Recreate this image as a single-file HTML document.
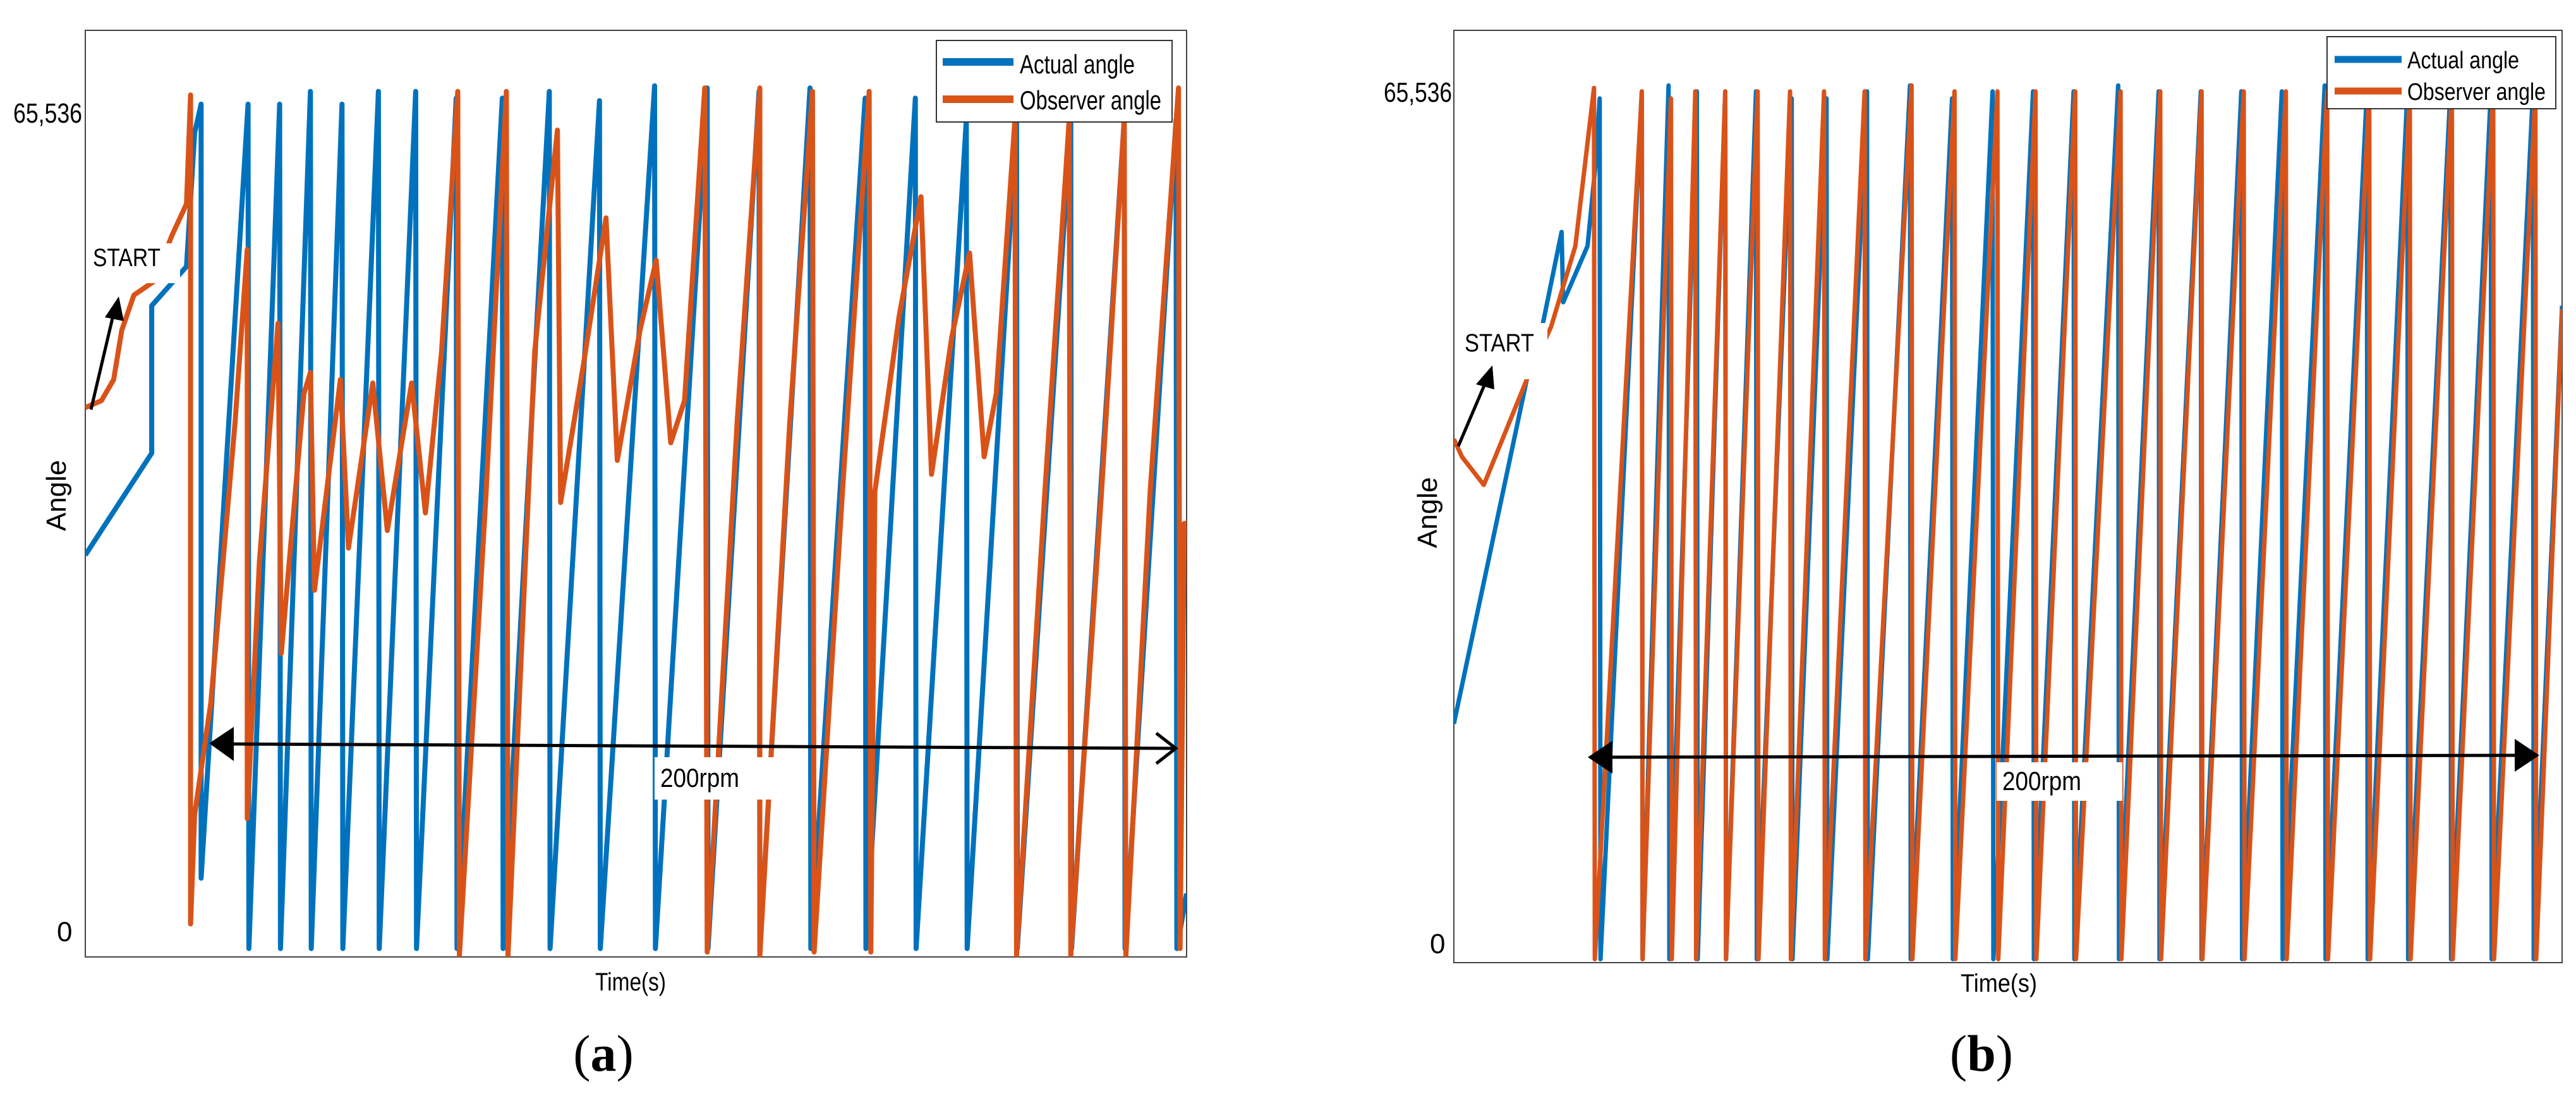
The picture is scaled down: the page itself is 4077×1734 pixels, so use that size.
<!DOCTYPE html>
<html><head><meta charset="utf-8"><style>
html,body{margin:0;padding:0;background:#fff;}
svg{display:block;}
text{font-family:"Liberation Sans",sans-serif;fill:#000;}
</style></head><body>
<svg id="fig" width="4077" height="1734" viewBox="0 0 4077 1734" xmlns="http://www.w3.org/2000/svg">
<defs>
<clipPath id="clipA"><rect x="135" y="48" width="1743" height="1466"/></clipPath>
<clipPath id="clipB"><rect x="2301" y="48" width="1754" height="1475"/></clipPath>
</defs>
<g id="panelA">
  <rect x="135" y="48" width="1743" height="1466" fill="#fff" stroke="#444" stroke-width="2"/>
  <g id="linesA" clip-path="url(#clipA)"></g>
  <rect x="140" y="385" width="145" height="63" fill="#fff"/>
  <text x="147" y="421" font-size="40" textLength="107" lengthAdjust="spacingAndGlyphs">START</text>
  <line x1="144" y1="648" x2="180" y2="495" stroke="#000" stroke-width="5"/>
  <polygon points="188,469 166,502 196,508" fill="#000"/>
  <line x1="360" y1="1177" x2="1858" y2="1184" stroke="#000" stroke-width="5"/>
  <polygon points="331,1176 370,1150 370,1204" fill="#000"/>
  <polyline points="1830,1160 1861,1184 1830,1208" fill="none" stroke="#000" stroke-width="5"/>
  <rect x="1036" y="1198" width="195" height="67" fill="#fff"/>
  <text x="1045" y="1245" font-size="42" textLength="125" lengthAdjust="spacingAndGlyphs">200rpm</text>
  <rect x="1482" y="64" width="373" height="129" fill="#fff" stroke="#333" stroke-width="2"/>
  <line x1="1492" y1="98" x2="1604" y2="98" stroke="#0072BD" stroke-width="12"/>
  <line x1="1492" y1="157" x2="1604" y2="157" stroke="#D95319" stroke-width="12"/>
  <text x="1614" y="116" font-size="42" textLength="182" lengthAdjust="spacingAndGlyphs">Actual angle</text>
  <text x="1614" y="173" font-size="42" textLength="224" lengthAdjust="spacingAndGlyphs">Observer angle</text>
  <text x="21" y="194" font-size="44" textLength="109" lengthAdjust="spacingAndGlyphs">65,536</text>
  <text x="90" y="1489" font-size="44">0</text>
  <text transform="translate(104,784) rotate(-90)" text-anchor="middle" font-size="44">Angle</text>
  <text x="942" y="1567" font-size="40" textLength="112" lengthAdjust="spacingAndGlyphs">Time(s)</text>
  <text x="955" y="1694" text-anchor="middle" font-size="82" style="font-family:'Liberation Serif',serif">(<tspan font-weight="bold">a</tspan>)</text>
</g>
<g id="panelB">
  <rect x="2301" y="48" width="1754" height="1475" fill="#fff" stroke="#444" stroke-width="2"/>
  <g id="linesB" clip-path="url(#clipB)"></g>
  <rect x="2312" y="511" width="137" height="89" fill="#fff"/>
  <text x="2318" y="556" font-size="40" textLength="110" lengthAdjust="spacingAndGlyphs">START</text>
  <line x1="2308" y1="706" x2="2352" y2="603" stroke="#000" stroke-width="5"/>
  <polygon points="2362,578 2336,608 2365,616" fill="#000"/>
  <line x1="2545" y1="1198" x2="3990" y2="1195" stroke="#000" stroke-width="5"/>
  <polygon points="2513,1198 2552,1172 2552,1224" fill="#000"/>
  <polygon points="4019,1195 3980,1169 3980,1221" fill="#000"/>
  <rect x="3160" y="1206" width="199" height="61" fill="#fff"/>
  <text x="3169" y="1250" font-size="42" textLength="125" lengthAdjust="spacingAndGlyphs">200rpm</text>
  <rect x="3683" y="58" width="362" height="114" fill="#fff" stroke="#333" stroke-width="2"/>
  <line x1="3695" y1="94" x2="3801" y2="94" stroke="#0072BD" stroke-width="11"/>
  <line x1="3695" y1="144" x2="3801" y2="144" stroke="#D95319" stroke-width="11"/>
  <text x="3810" y="108" font-size="38" textLength="177" lengthAdjust="spacingAndGlyphs">Actual angle</text>
  <text x="3810" y="158" font-size="38" textLength="219" lengthAdjust="spacingAndGlyphs">Observer angle</text>
  <text x="2190" y="161" font-size="44" textLength="108" lengthAdjust="spacingAndGlyphs">65,536</text>
  <text x="2263" y="1508" font-size="44">0</text>
  <text transform="translate(2274,811) rotate(-90)" text-anchor="middle" font-size="44">Angle</text>
  <text x="3103" y="1569" font-size="40" textLength="121" lengthAdjust="spacingAndGlyphs">Time(s)</text>
  <text x="3136" y="1694" text-anchor="middle" font-size="82" style="font-family:'Liberation Serif',serif">(<tspan font-weight="bold">b</tspan>)</text>
</g>
</svg>
<script>
// ---- Panel (a) data: time (arbitrary units), angle (counts) ----
const aActualStartT = [105,187,187,230,240,248,248];
const aActualStartA = [30150,38320,50150,53300,64000,66320,4230];
const aActualDrops = [306,345,383,422,467,513,563,620,678,740,808,873,937,1000,1068,1130,1193,1255,1322,1388,1452];
const aActualPeaks = [66320,66320,67340,66320,67340,67340,66800,66800,67340,66600,67790,67620,67340,67620,66800,66800,65080,65080,65080,65080,65080];
const aActualBottom = -1410;
const aActualEnd = [1465,3000];

const aObsT = [105,125,140,150,165,190,212,230,235,235,240,260,290,305,305,320,343,347,375,383,388,420,430,460,478,508,525,545,565,567,600,625,627,660,688,692,720,748,762,790,810,828,845,870,873,910,938,938,975,1003,1005,1040,1073,1075,1080,1110,1137,1150,1175,1197,1215,1230,1253,1255,1290,1320,1322,1360,1388,1390,1420,1455,1457,1462,1465];
const aObsA = [41980,42540,44230,48180,51000,52120,55790,58320,67060,560,9300,18310,40850,54660,9020,29580,48740,22260,43110,44800,27330,44230,30710,43950,32120,43950,33530,46490,67340,-1970,35220,67340,-1970,46490,64240,34370,45360,57200,37750,48180,53810,39160,42540,67620,-1690,40850,67620,-1970,40850,67340,-1690,35220,67340,-1690,35220,49300,58890,36630,47620,54380,38040,43110,65080,-1970,35220,65080,-1970,35220,65080,-1970,35220,67620,-1410,32680,32680];

// ---- Panel (b) data ----
const bActualStartT = [175,265,285,308,310,340,350,355,356];
const bActualStartA = [16990,43420,47740,54750,49360,53670,60000,65000,-1080];
const bActualDrops = [407,440,475,510,548,592,635,685,738,790,840,890,940,995,1045,1097,1147,1197,1250,1302,1352,1405,1455,1507];
const bActualPeaks = [65540,66000,65540,65540,65540,65000,65000,65540,66000,65000,65540,65540,65540,66000,65540,65540,65540,65540,66000,65540,65540,65540,65540,65540];
const bActualBottom = -1080;
const bActualEnd = [1543,49090];

const bObsStartT = [175,185,212,265,295,325,348,349];
const bObsStartA = [38840,37490,35330,43420,47470,53670,65810,-1080];
const bObsDrops = [407,443,473,510,550,590,632,682,740,793,846,893,942,998,1047,1098,1150,1202,1253,1305,1355,1407,1458,1510];
const bObsPeaks = [65540,65000,65540,65540,65540,65540,65540,65540,66000,65540,65540,65540,65540,65540,65540,65540,65540,65540,65540,65540,65540,65540,65540,65540];
const bObsBottom = -1080;
const bObsEnd = [1543,48820];

function scale(d0,d1,r0,r1){return v=>r0+(v-d0)*(r1-r0)/(d1-d0);}
const axA = {x:scale(105,1465,135,1878), y:scale(-2085,72240,1514,48)};
const axB = {x:scale(175,1543,2301,4055), y:scale(-1349,70230,1523,48)};

function sawPoints(st,sa,drops,peaks,bottom,end){
  const p=[];
  for(let i=0;i<st.length;i++)p.push([st[i],sa[i]]);
  for(let i=0;i<drops.length;i++){p.push([drops[i],peaks[i]]);p.push([drops[i]+1,bottom]);}
  p.push(end);
  return p;
}
function pairPoints(t,a){return t.map((v,i)=>[v,a[i]]);}
const NS='http://www.w3.org/2000/svg';
function draw(gid,ax,pts,color,w,name){
  const el=document.createElementNS(NS,'polyline');
  el.setAttribute('points',pts.map(p=>ax.x(p[0]).toFixed(1)+','+ax.y(p[1]).toFixed(1)).join(' '));
  el.setAttribute('fill','none');
  el.setAttribute('stroke',color);
  el.setAttribute('stroke-width',w);
  el.setAttribute('stroke-linejoin','round');
  
  
  document.getElementById(gid).appendChild(el);
}
draw('linesA',axA,sawPoints(aActualStartT,aActualStartA,aActualDrops,aActualPeaks,aActualBottom,aActualEnd),'#0072BD',8,'actual-angle-line-a');
draw('linesA',axA,pairPoints(aObsT,aObsA),'#D95319',8,'observer-angle-line-a');
draw('linesB',axB,sawPoints(bActualStartT,bActualStartA,bActualDrops,bActualPeaks,bActualBottom,bActualEnd),'#0072BD',7,'actual-angle-line-b');
draw('linesB',axB,sawPoints(bObsStartT,bObsStartA,bObsDrops,bObsPeaks,bObsBottom,bObsEnd),'#D95319',7,'observer-angle-line-b');
</script>
</body></html>
